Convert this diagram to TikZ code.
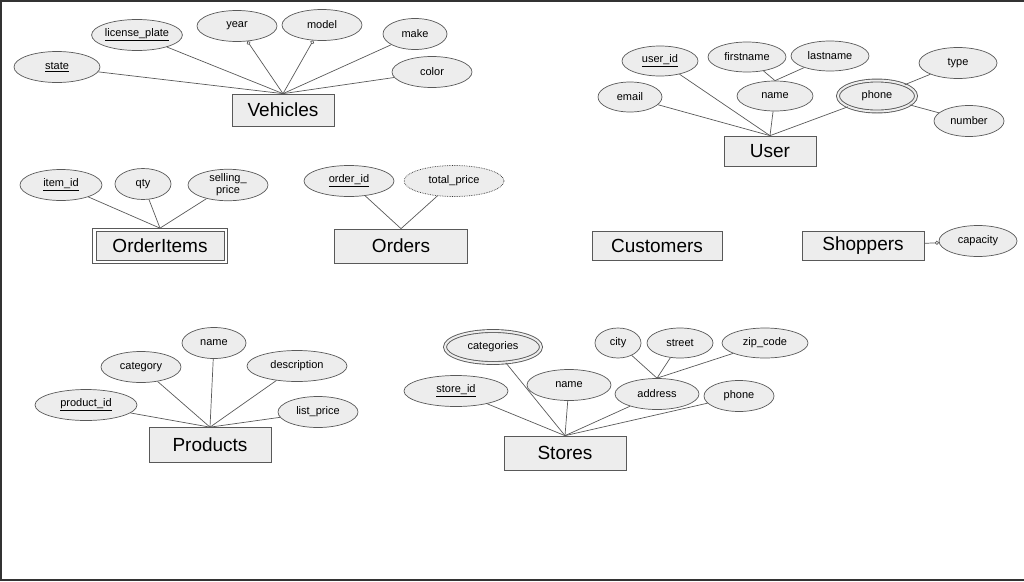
\documentclass[tikz,border=0pt]{standalone}
\usepackage{fontspec}
\setmainfont{Liberation Sans}
\usetikzlibrary{arrows.meta,shapes.geometric}
\begin{document}
\begin{tikzpicture}[x=1pt,y=-1pt,line width=0.7pt,
  entity/.style={rectangle,draw=black!65,fill=black!7,minimum width=#1,minimum height=32pt,inner sep=0pt,font=\fontsize{19}{21}\selectfont},
  attr/.style={ellipse,draw=black!65,fill=black!7,minimum width=#1,minimum height=31pt,inner sep=0pt,font=\fontsize{11}{12}\selectfont},
  multi/.style={attr=#1,double=black!7,double distance=2pt,line width=0.9pt},
  opt/.style={{Circle[open,length=4pt]}-}]
  \useasboundingbox (0,0) rectangle (1024,581);
  \draw[black!80,line width=2pt] (1024,1) -- (1,1) -- (1,579.5) -- (1024,579.5);

  % Vehicles
  \node[entity=102pt] (veh) at (283,110) {Vehicles};
  \node[attr=86pt] (state) at (57,67) {\underline{state}};
  \node[attr=80pt] (plate) at (137,35) {\underline{license\_plate}};
  \node[attr=80pt] (year) at (237,26) {year};
  \node[attr=80pt] (model) at (322,25) {model};
  \node[attr=64pt] (make) at (415,34) {make};
  \node[attr=80pt] (color) at (432,72) {color};

  % User
  \node[entity=92pt,minimum height=30pt] (user) at (770,151) {User};
  \node[attr=76pt,minimum height=30pt] (uid) at (660,61) {\underline{user\_id}};
  \node[attr=78pt,minimum height=30pt] (first) at (747,57) {firstname};
  \node[attr=78pt,minimum height=30pt] (last) at (830,56) {lastname};
  \node[attr=64pt,minimum height=30pt] (email) at (630,97) {email};
  \node[attr=76pt,minimum height=30pt] (uname) at (775,96) {name};
  \node[multi=78pt,minimum height=31pt] (uphone) at (877,96) {phone};
  \node[attr=78pt] (type) at (958,63) {type};
  \node[attr=70pt] (number) at (969,121) {number};

  % OrderItems, Orders, Customers, Shoppers
  \node[entity=128pt,minimum height=29pt] (items) at (160,246) {OrderItems};
  \draw[black!65,line width=0.9pt] ([shift={(-3pt,3pt)}]items.north west) rectangle ([shift={(3pt,-3pt)}]items.south east);
  \node[attr=82pt] (iid) at (61,185) {\underline{item\_id}};
  \node[attr=56pt] (qty) at (143,184) {qty};
  \node[attr=80pt,align=center] (sell) at (228,185) {selling\_\\price};
  \node[entity=133pt,minimum height=34pt] (orders) at (401,246) {Orders};
  \node[attr=90pt] (oid) at (349,181) {\underline{order\_id}};
  \node[attr=100pt,densely dotted,draw=black!80] (total) at (454,181) {total\_price};
  \node[entity=130pt,minimum height=29pt] (cust) at (657,246) {Customers};
  \node[entity=122pt,minimum height=29pt] (shop) at (863,246) {Shoppers};
  \node[attr=78pt] (cap) at (978,241) {capacity};

  % Products
  \node[entity=122pt,minimum height=35pt] (prod) at (210,445) {Products};
  \node[attr=102pt] (pid) at (86,405) {\underline{product\_id}};
  \node[attr=80pt] (cat) at (141,367) {category};
  \node[attr=64pt] (pname) at (214,343) {name};
  \node[attr=100pt] (desc) at (297,366) {description};
  \node[attr=80pt] (price) at (318,412) {list\_price};

  % Stores
  \node[entity=122pt,minimum height=34pt] (stores) at (565,453) {Stores};
  \node[multi=96pt,minimum height=32pt] (cats) at (493,347) {categories};
  \node[attr=104pt] (sid) at (456,391) {\underline{store\_id}};
  \node[attr=84pt] (sname) at (569,385) {name};
  \node[attr=46pt,minimum height=30pt] (city) at (618,343) {city};
  \node[attr=66pt,minimum height=30pt] (street) at (680,343) {street};
  \node[attr=86pt,minimum height=30pt] (zip) at (765,343) {zip\_code};
  \node[attr=84pt] (addr) at (657,394) {address};
  \node[attr=70pt] (sphone) at (739,396) {phone};

  \path[draw=black!65]
   (state) edge (veh.north)
   (plate) edge (veh.north)
   (year) edge[opt] (veh.north)
   (model) edge[opt] (veh.north)
   (make) edge (veh.north)
   (color) edge (veh.north)
   (email) edge (user.north)
   (uid) edge (user.north)
   (uname) edge (user.north)
   (uphone) edge (user.north)
   (first) edge (uname.north)
   (last) edge (uname.north)
   (type) edge (uphone)
   (number) edge (uphone)
   (iid) edge ([yshift=3pt]items.north)
   (qty) edge ([yshift=3pt]items.north)
   (sell) edge ([yshift=3pt]items.north)
   (oid) edge (orders.north)
   (total) edge (orders.north)
   (cap) edge[opt] (shop)
   (pid) edge (prod.north)
   (cat) edge (prod.north)
   (pname) edge (prod.north)
   (desc) edge (prod.north)
   (price) edge (prod.north)
   (cats) edge (stores.north)
   (sid) edge (stores.north)
   (sname) edge (stores.north)
   (addr) edge (stores.north)
   (sphone) edge (stores.north)
   (city) edge (addr.north)
   (street) edge (addr.north)
   (zip) edge (addr.north);
\end{tikzpicture}
\end{document}
